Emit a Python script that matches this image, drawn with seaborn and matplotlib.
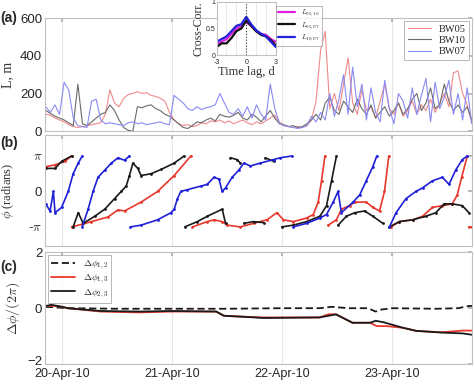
import numpy as np
import pandas as pd
import matplotlib
matplotlib.use('Agg')
import matplotlib.pyplot as plt
import matplotlib.transforms as mtransforms
import seaborn as sns

# === DATA ===
DAY_TICKS = [20, 21, 22, 23]
DAY_LABELS = ['20-Apr-10', '21-Apr-10', '22-Apr-10', '23-Apr-10']
T_START = 19.85          # first hourly sample of panel (a), in days of April
X_LIM = (19.843, 23.728)

# (a) length scale L [m], one value per hour
L_BW05 = [90, 85, 70, 60, 50, 35, 25, 20, 25, 30, 35, 40, 45, 90, 220, 150, 130, 175, 195, 200,
          210, 200, 205, 190, 185, 175, 160, 100, 60, 40, 30, 35, 25, 30, 45, 40, 55, 50, 60, 45,
          55, 40, 50, 60, 45, 35, 50, 40, 55, 70, 85, 50, 30, 25, 20, 25, 20, 30, 60, 160,
          430, 530, 120, 200, 110, 250, 390, 150, 90, 220, 110, 130, 70, 160, 250, 120, 90, 150, 80, 110,
          160, 90, 140, 110, 170, 100, 150, 200, 130, 310, 320, 200, 140, 40]
L_BW10 = [110, 95, 80, 70, 60, 45, 30, 250, 40, 30, 50, 70, 90, 100, 140, 110, 60, 20, 5, 0,
          130, 125, 135, 140, 120, 110, 90, 80, 60, 40, 20, 15, 30, 50, 45, 60, 70, 55, 90, 80,
          75, 85, 100, 70, 60, 90, 75, 50, 80, 110, 70, 40, 35, 25, 30, 20, 25, 40, 60, 90,
          60, 150, 180, 110, 90, 160, 130, 100, 170, 120, 90, 140, 70, 100, 130, 80, 110, 150, 90, 120,
          170, 200, 110, 150, 230, 120, 140, 250, 160, 110, 140, 100, 130, 60]
L_BW07 = [130, 100, 140, 90, 260, 220, 70, 30, 25, 20, 160, 170, 60, 40, 45, 40, 35, 30, 45, 50,
          40, 45, 35, 40, 45, 50, 40, 35, 190, 170, 150, 120, 110, 130, 115, 125, 130, 140, 200, 150,
          100, 90, 120, 80, 130, 70, 140, 90, 60, 250, 120, 40, 30, 25, 20, 15, 20, 30, 80, 50,
          100, 60, 200, 80, 170, 300, 90, 340, 130, 250, 60, 230, 100, 50, 270, 120, 40, 200, 160, 70,
          230, 90, 190, 280, 50, 260, 120, 180, 270, 90, 200, 60, 230, 40]

# inset: cross-correlation vs time lag [d]
LAG = [-3, -2.5, -2, -1.5, -1, -0.5, 0, 0.5, 1, 1.5, 2, 2.5, 3]
CC_05_10 = [0.20, 0.25, 0.30, 0.40, 0.50, 0.55, 0.62, 0.55, 0.45, 0.40, 0.38, 0.30, 0.25]
CC_05_07 = [0.15, 0.22, 0.22, 0.32, 0.45, 0.50, 0.65, 0.55, 0.45, 0.38, 0.35, 0.28, 0.18]
CC_10_07 = [0.25, 0.30, 0.35, 0.45, 0.55, 0.58, 0.72, 0.58, 0.47, 0.40, 0.35, 0.25, 0.15]

# (b) wrapped phase, segments of (day, phi/pi)
PHI_RED = [
    [(19.849, 0.7), (19.934, 0.75), (20.024, 0.85), (20.084, 1.0)],
    [(20.084, -1.0), (20.175, -0.93), (20.265, -0.85), (20.416, -0.72), (20.506, -0.52), (20.566, -0.55),
     (20.717, -0.3), (20.867, 0.0), (21.018, 0.45), (21.169, 1.0)],
    [(21.184, -1.0), (21.319, -0.85), (21.380, -0.8), (21.455, -0.85), (21.5, -0.95), (21.620, -1.0),
     (21.741, -0.9), (21.861, -0.8), (21.952, -0.6), (22.012, -0.8), (22.102, -0.85), (22.223, -0.75),
     (22.283, -0.65), (22.328, -0.3), (22.358, 0.3), (22.389, 1.0)],
    [(22.419, -0.95), (22.494, -0.8), (22.539, -0.5), (22.614, -0.4), (22.660, -0.3), (22.765, -0.3),
     (22.825, -0.45), (22.886, -0.55), (22.931, 0.0), (22.970, 1.0)],
    [(22.991, -1.0), (23.066, -0.85), (23.187, -0.8), (23.277, -0.7), (23.367, -0.45), (23.458, -0.4),
     (23.548, -0.35), (23.593, -0.1), (23.633, 0.4), (23.684, 1.0)],
    [(23.699, -1.0), (23.728, -1.0)],
]
PHI_BLACK = [
    [(19.849, 0.65), (19.934, 0.65), (19.994, 0.85), (20.084, 1.0)],
    [(20.099, -1.0), (20.145, -0.6), (20.190, -0.9), (20.295, -0.7), (20.386, -0.5), (20.476, -0.2),
     (20.536, 0.0), (20.581, 0.15), (20.611, 0.45), (20.642, 0.8), (20.687, 0.65), (20.717, 0.45),
     (20.807, 0.5), (20.898, 0.62), (21.018, 0.8), (21.108, 1.0)],
    [(21.114, -1.0), (21.229, -0.85), (21.319, -0.7), (21.455, -0.5), (21.485, -0.9)],
    [(21.530, 0.95), (21.590, 0.9), (21.620, 0.8)],
    [(21.651, -0.9), (21.741, -0.85), (21.831, -0.88)],
    [(21.846, 0.95), (21.922, 0.85)],
    [(21.997, -1.0), (22.102, -0.95), (22.223, -0.85), (22.343, -0.7), (22.404, -0.4), (22.449, 0.3),
     (22.494, 1.0)],
    [(22.509, -0.95), (22.584, -0.7), (22.660, -0.6), (22.750, -0.55), (22.825, -0.7), (22.916, -0.9)],
    [(22.976, -1.0), (23.066, -0.85), (23.187, -0.8), (23.307, -0.7), (23.398, -0.6), (23.473, -0.35),
     (23.548, -0.35), (23.639, -0.4), (23.699, -0.6)],
]
PHI_BLUE = [
    [(19.849, -0.35), (19.889, -0.55), (19.919, 0.0), (19.934, -0.6), (19.994, -0.45), (20.054, 0.0),
     (20.099, 0.5), (20.145, 0.8), (20.181, 1.0)],
    [(20.181, -1.0), (20.235, -0.5), (20.280, 0.0), (20.325, 0.4), (20.386, 0.6), (20.446, 0.8),
     (20.506, 0.95), (20.566, 0.88), (20.611, 1.0)],
    [(20.620, -1.0), (20.717, -0.95), (20.867, -0.8), (20.988, -0.6), (21.018, -0.5), (21.048, -0.2),
     (21.078, 0.0), (21.139, 0.05), (21.259, 0.15), (21.319, 0.2), (21.380, 0.4), (21.425, 0.35),
     (21.455, 0.0), (21.485, 0.1), (21.545, 0.4), (21.605, 0.6), (21.651, 0.8), (21.711, 0.72),
     (21.801, 0.8), (21.922, 0.9), (21.982, 0.95), (22.087, 1.0)],
    [(22.102, -1.0), (22.223, -0.9), (22.343, -0.75), (22.404, -0.65), (22.464, -0.3), (22.509, 0.0),
     (22.539, -0.6), (22.645, -0.3), (22.705, -0.1), (22.765, 0.3), (22.825, 0.7), (22.861, 1.0)],
    [(22.976, -1.0), (23.036, -0.6), (23.127, -0.2), (23.217, 0.0), (23.277, 0.1), (23.367, 0.3),
     (23.458, 0.4), (23.518, 0.2), (23.578, 0.6), (23.639, 0.9), (23.684, 1.0)],
]

# (c) phase differences / (2 pi)
T_D12 = [19.85, 20.05, 20.5, 21.0, 21.5, 22.0, 22.35, 22.45, 22.6, 22.78, 22.85, 22.9, 23.0, 23.4, 23.6, 23.7, 23.73]
D12 = [0.05, 0.0, -0.02, -0.02, -0.02, 0.0, 0.0, 0.05, 0.0, 0.0, -0.12, -0.05, 0.0, -0.02, 0.0, 0.08, 0.08]
T_D13 = [19.85, 19.95, 20.05, 20.35, 20.7, 21.0, 21.4, 21.47, 21.62, 21.83, 22.34, 22.42, 22.49, 22.64,
         22.8, 22.86, 22.95, 23.1, 23.22, 23.45, 23.64, 23.73]
D13 = [0.08, 0.08, 0.0, -0.12, -0.15, -0.12, -0.12, -0.27, -0.3, -0.33, -0.33, -0.22, -0.22, -0.52,
       -0.52, -0.64, -0.64, -0.70, -0.81, -0.86, -0.80, -0.80]
T_D23 = [19.85, 19.9, 20.0, 20.05, 20.35, 20.7, 21.0, 21.4, 21.47, 21.62, 21.83, 22.34, 22.49, 22.64,
         22.8, 22.85, 22.92, 23.1, 23.22, 23.45, 23.64, 23.73]
D23 = [0.08, 0.12, 0.05, 0.0, -0.1, -0.12, -0.1, -0.12, -0.27, -0.3, -0.35, -0.33, -0.22, -0.52,
       -0.52, -0.45, -0.5, -0.7, -0.81, -0.87, -0.9, -0.95]

# === STYLE ===
sns.set_theme(style='white')
plt.rcParams['font.family'] = ['Liberation Sans', 'DejaVu Sans']
plt.rcParams['mathtext.fontset'] = 'cm'
plt.rcParams['xtick.direction'] = 'in'
plt.rcParams['ytick.direction'] = 'in'
plt.rcParams['axes.edgecolor'] = '#c0c0c0'
plt.rcParams['axes.linewidth'] = 0.8
SERIF = 'Liberation Serif'
TICK_COL = '#262626'
LABEL_COL = '#333333'

fig = plt.figure(figsize=(4.74, 3.85), dpi=100)
ax_a = fig.add_axes([0.095, 0.659, 0.901, 0.294])
ax_b = fig.add_axes([0.095, 0.360, 0.901, 0.290])
ax_c = fig.add_axes([0.095, 0.054, 0.901, 0.291])


def style_axis(ax):
    ax.set_xlim(*X_LIM)
    ax.set_xticks(DAY_TICKS)
    ax.grid(axis='x', color='#e6e6e6', lw=0.8)
    ax.grid(axis='y', visible=False)
    ax.tick_params(axis='both', which='both', direction='in', length=3, color='#b0b0b0',
                   labelsize=9.5, labelcolor=TICK_COL, top=True, right=True, pad=2)
    ax.tick_params(axis='x', pad=3, labelsize=9)
    ax.set_xlabel('')


# --- (a) length scales ---
t_a = T_START + np.arange(len(L_BW05)) / 24
df_a = pd.DataFrame({'t': np.tile(t_a, 3),
                     'L': L_BW05 + L_BW10 + L_BW07,
                     'probe': ['BW05'] * len(t_a) + ['BW10'] * len(t_a) + ['BW07'] * len(t_a)})
pal_a = {'BW05': '#f08a8a', 'BW10': '#6a6a6a', 'BW07': '#8a8af5'}
sns.lineplot(data=df_a, x='t', y='L', hue='probe', palette=pal_a, lw=0.8, ax=ax_a)
style_axis(ax_a)
ax_a.set_ylim(0, 600)
ax_a.set_yticks([0, 200, 400, 600])
ax_a.set_xticklabels([])
ax_a.set_ylabel('L, m', family=SERIF, fontsize=10, color=LABEL_COL)
ax_a.yaxis.set_label_coords(-0.072, 0.5)
leg = ax_a.legend(loc='upper right', frameon=True, fancybox=False, handlelength=2.2,
                  borderaxespad=0.3, borderpad=0.3, labelspacing=0.2, prop={'family': SERIF, 'size': 7.5})
leg.get_frame().set_edgecolor('#999999')
leg.get_frame().set_linewidth(0.6)

# --- inset cross-correlation ---
ax_in = fig.add_axes([0.457, 0.857, 0.125, 0.138])
df_in = pd.DataFrame({'lag': LAG * 3, 'cc': CC_05_10 + CC_05_07 + CC_10_07,
                      'pair': [r'$L_{05,10}$'] * len(LAG) + [r'$L_{05,07}$'] * len(LAG) + [r'$L_{10,07}$'] * len(LAG)})
sns.lineplot(data=df_in, x='lag', y='cc', hue='pair',
             palette=['#e020e0', '#111111', '#2222dd'], lw=1.6, ax=ax_in)
ax_in.axvline(0, ls=':', color='#333333', lw=0.8)
ax_in.set_xlim(-3, 3)
ax_in.set_ylim(0, 1)
ax_in.set_xticks([-3, -2, -1, 0, 1, 2, 3], labels=['-3', '', '', '0', '', '', '3'])
ax_in.set_yticks([0, 0.5, 1], labels=['0', '0.5', '1'])
ax_in.grid(axis='x', color='#e6e6e6', lw=0.6)
ax_in.tick_params(labelsize=5, length=2, pad=1, color='#b0b0b0', labelcolor=TICK_COL)
ax_in.tick_params(axis='x', pad=3)
ax_in.set_xlabel('Time lag, d', family=SERIF, fontsize=9, labelpad=0, color=LABEL_COL)
ax_in.set_ylabel('Cross-Corr.', family=SERIF, fontsize=8.5, labelpad=1, color=LABEL_COL)
leg_in = ax_in.legend(loc='upper left', bbox_to_anchor=(1.0, 0.93), fontsize=5, frameon=True,
                      fancybox=False, handlelength=2.5, borderpad=0.3, labelspacing=0.3, borderaxespad=0)
leg_in.get_frame().set_edgecolor('#999999')
leg_in.get_frame().set_linewidth(0.6)

# --- (b) wrapped phases ---
rows = []
for name, segs in [('red', PHI_RED), ('black', PHI_BLACK), ('blue', PHI_BLUE)]:
    for i, seg in enumerate(segs):
        for t, v in seg:
            rows.append({'series': name, 'seg': f'{name}{i}', 't': t, 'phi': v * np.pi})
df_b = pd.DataFrame(rows)
pal_b = {'red': '#e8372c', 'black': '#1a1a1a', 'blue': '#2020d8'}
for name in ['red', 'black', 'blue']:
    sub = df_b[df_b['series'] == name]
    sns.lineplot(data=sub, x='t', y='phi', units='seg', estimator=None, sort=False,
                 color=pal_b[name], lw=1.2, marker='o', markersize=2, markeredgewidth=0, ax=ax_b)
style_axis(ax_b)
ax_b.set_ylim(-1.55 * np.pi, 1.6 * np.pi)
ax_b.set_yticks([-np.pi, 0, np.pi])
ax_b.set_yticklabels([r'-$\pi$', '0', r'$\pi$'])
ax_b.set_xticklabels([])
ax_b.set_ylabel(r'$\phi$ (radians)', family=SERIF, fontsize=9, color=LABEL_COL)
ax_b.yaxis.set_label_coords(-0.068, 0.5)

# --- (c) phase differences ---
df_c = pd.DataFrame({'t': T_D12 + T_D13 + T_D23, 'd': D12 + D13 + D23,
                     'pair': [r'$\Delta\phi_{1,2}$'] * len(T_D12) + [r'$\Delta\phi_{1,3}$'] * len(T_D13)
                     + [r'$\Delta\phi_{2,3}$'] * len(T_D23)})
sns.lineplot(data=df_c, x='t', y='d', hue='pair', style='pair',
             palette=['#1a1a1a', '#e8372c', '#1a1a1a'],
             dashes=[(4, 2), '', ''], lw=1.3, ax=ax_c)
style_axis(ax_c)
ax_c.set_ylim(-2, 2)
ax_c.set_yticks([-2, 0, 2])
ax_c.set_xticklabels(DAY_LABELS)
# nudge the bottom "-2" label up so it clears the first date label
lbl_low = ax_c.get_yticklabels()[0]
lbl_low.set_transform(lbl_low.get_transform() + mtransforms.ScaledTranslation(0, 3 / 72, fig.dpi_scale_trans))
ax_c.set_ylabel(r'$\Delta\phi/(2\pi)$', fontsize=10, color=LABEL_COL)
ax_c.yaxis.set_label_coords(-0.055, 0.5)
leg_c = ax_c.legend(loc='upper left', fontsize=7, frameon=True, fancybox=False, handlelength=2.5,
                    borderaxespad=0.3, borderpad=0.3, labelspacing=0.15)
leg_c.get_frame().set_edgecolor('#999999')
leg_c.get_frame().set_linewidth(0.6)

# panel tags
for y, tag in [(0.953, '(a)'), (0.629, '(b)'), (0.306, '(c)')]:
    fig.text(0.0, y, tag, fontsize=10, weight='bold', va='center', ha='left')

fig.savefig('out.png', dpi=100)
